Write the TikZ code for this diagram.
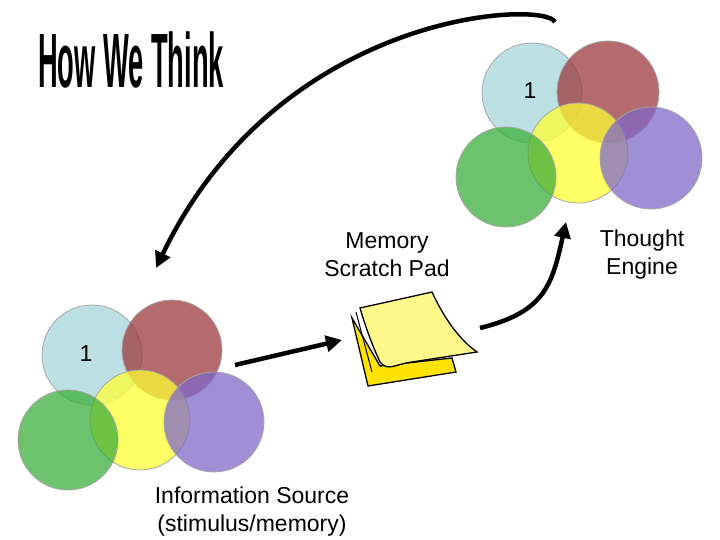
\documentclass[tikz,border=0pt]{standalone}
\usepackage{fontspec}
\setmainfont{Liberation Sans}
\usetikzlibrary{arrows.meta}
\begin{document}
\begin{tikzpicture}[x=1pt,y=-1pt,
  circ/.style={draw=gray!70,line width=0.8pt,fill opacity=0.75},
  lbl/.style={font=\fontsize{23}{28}\selectfont,align=center},
  arr/.style={line width=4.5pt,-{Triangle[length=16pt,width=16pt]}}]
\useasboundingbox (0,0) rectangle (720,540);
\definecolor{cb}{HTML}{A6D6DA}
\definecolor{cr}{HTML}{9C3A3E}
\definecolor{cy}{HTML}{FFFF33}
\definecolor{cg}{HTML}{3CAE3C}
\definecolor{cp}{HTML}{8068C8}
% left cluster
\fill[cb,circ] (92,355) circle (50);
\fill[cr,circ] (172,350) circle (50);
\fill[cy,circ] (140,420) circle (50);
\fill[cg,circ] (68,440) circle (50);
\fill[cp,circ] (214,422) circle (50);
\node[lbl] (one1) at (86,354) {1};
% right cluster
\fill[cb,circ] (532,93) circle (50);
\fill[cr,circ] (608,92) circle (51);
\fill[cy,circ] (578,153) circle (50);
\fill[cg,circ] (506,177) circle (50);
\fill[cp,circ] (651,158) circle (51);
\node[lbl] (one2) at (530,91) {1};
% title
\node (title) at (131,60) {\scalebox{0.62}[1.75]{\fontsize{44}{44}\selectfont\bfseries How We Think}};
% labels
\node[lbl] (mem) at (387,255) {Memory\\Scratch Pad};
\node[lbl] (te) at (642,255) {Thought\\Engine};
\node[lbl] (is) at (252,512) {Information Source\\(stimulus/memory)};
% notepad
\draw[line width=1.3pt,fill=yellow!85!orange] (352,318) -- (368,386) -- (456,372) -- (452,358) -- (380,366) -- cycle;
\draw[line width=1.3pt,fill=yellow!45] (360,308) -- (432,292) .. controls (445,320) and (460,340) .. (477,352) -- (412,362) .. controls (395,364) and (388,372) .. (380,362) .. controls (372,345) and (365,325) .. cycle;
\draw[line width=1pt] (356,312) -- (372,372);
% arrows
\coordinate (a1s) at (555,22);
\coordinate (a1e) at (156,268);
\draw[arr] (a1s) .. controls (545,0) and (280,10) .. (a1e);
\coordinate (a2s) at (235,365);
\coordinate (a2e) at (342,340);
\draw[arr] (a2s) -- (a2e);
\coordinate (a3s) at (480,328);
\coordinate (a3e) at (566,222);
\draw[arr] (a3s) .. controls (545,312) and (552,285) .. (a3e);
\end{tikzpicture}
\end{document}
